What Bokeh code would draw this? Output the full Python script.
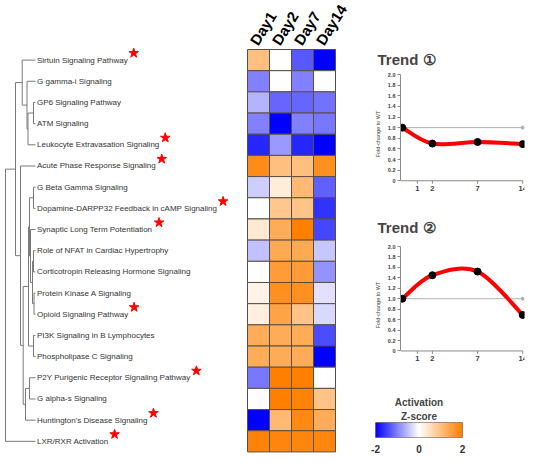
import numpy as np
from bokeh.plotting import figure
from bokeh.layouts import row, column
from bokeh.models import (Range1d, LinearColorMapper, FixedTicker, ColumnDataSource,
                          Title, PrintfTickFormatter)
from bokeh.transform import transform
from bokeh.core.properties import value
from bokeh.embed import file_html
from bokeh.resources import INLINE

# ---------------------------------------------------------------- data
pathways = [
    "Sirtuin Signaling Pathway",
    "G gamma-i Signaling",
    "GP6 Signaling Pathway",
    "ATM Signaling",
    "Leukocyte Extravasation Signaling",
    "Acute Phase Response Signaling",
    "G Beta Gamma Signaling",
    "Dopamine-DARPP32 Feedback in cAMP Signaling",
    "Synaptic Long Term Potentiation",
    "Role of NFAT in Cardiac Hypertrophy",
    "Corticotropin Releasing Hormone Signaling",
    "Protein Kinase A Signaling",
    "Opioid Signaling Pathway",
    "PI3K Signaling in B Lymphocytes",
    "Phospholipase C Signaling",
    "P2Y Purigenic Receptor Signaling Pathway",
    "G alpha-s Signaling",
    "Huntington's Disease Signaling",
    "LXR/RXR Activation",
]
starred = [True, False, False, False, True, True, False, True, True, False,
           False, False, True, False, False, True, False, True, True]

days = ["Day1", "Day2", "Day7", "Day14"]
z_day1 = [1.0, -1.0, -0.6, -1.0, -1.7, 1.8, -0.4, 0.0, 0.35, -0.5,
          0.0, 0.2, 0.25, 1.3, 1.3, -1.05, 0.0, -2.0, 1.95]
z_day2 = [0.0, 0.0, -1.2, -2.0, -0.8, 1.0, 0.3, 0.9, 1.3, 1.35,
          1.55, 1.75, 1.45, 1.3, 1.3, 2.0, 2.0, 1.1, 1.9]
z_day7 = [-1.3, -1.0, -1.2, -1.0, -1.7, 1.0, 1.1, 0.95, 2.0, 1.35,
          1.55, 1.75, 0.95, 1.3, 1.3, 2.0, 1.95, 1.85, 1.9]
z_day14 = [-2.0, 0.0, -1.1, -1.05, -2.0, 1.75, -1.25, -1.6, -1.45, -0.45,
           -0.85, -0.25, -0.3, -1.4, -2.0, 0.0, 0.95, 1.3, 1.9]

# hierarchical clustering of the pathways: (child_a, child_b, merge height)
# leaves are 0..18, merged clusters continue the numbering from 19
merges = [
    (2, 3, 2.0), (19, 4, 7.5), (1, 20, 8.5), (0, 21, 13.3),
    (6, 7, 2.0), (9, 10, 2.0), (11, 12, 1.5), (24, 25, 3.0), (8, 26, 5.0),
    (23, 27, 6.0), (13, 14, 2.0), (28, 29, 7.0), (15, 16, 6.0), (31, 17, 10.0),
    (30, 32, 12.3), (5, 33, 15.0), (22, 34, 20.0), (35, 18, 30.0),
]

trend_days = [0, 2, 7, 14]
trend1_fold = [1.0, 0.70, 0.73, 0.69]
trend2_fold = [1.0, 1.45, 1.52, 0.69]
trend_tick_days = [1, 2, 7, 14]
fold_ticks = [0, 0.2, 0.4, 0.6, 0.8, 1.0, 1.2, 1.4, 1.6, 1.8, 2.0]
wt_level = 1.0
zscore_ticks = [-2, 0, 2]

# ---------------------------------------------------------------- styling
FONT = "Liberation Sans"
W_LEFT, W_RIGHT, H = 360, 177, 463
ROW_PX, TOP_PX = 21.18, 49.0
LEAF_X = 35.0
LABEL_X = 36.5
HEAT_X0, CELL_W = 247.0, 22.0
LABEL_SIZE = 8.0

# horizontal slot of each day on the trend axes
DAY_POS = {0: 0, 1: 1, 2: 2, 7: 5, 14: 8}
FOLD_PX = 53.15          # pixels per fold-change unit on the trend panels
X_LO, X_HI = -0.12, 8.12
Y_LO, Y_HI = -0.24, 2.0


def ramp(c0, c1, n):
    c0, c1 = np.array(c0, float), np.array(c1, float)
    out = []
    for t in np.linspace(0, 1, n):
        r, g, b = (c0 + (c1 - c0) * t).round().astype(int)
        out.append("#%02x%02x%02x" % (r, g, b))
    return out


palette = ramp((0, 0, 255), (255, 255, 255), 128) + ramp((255, 255, 255), (255, 128, 0), 128)
mapper = LinearColorMapper(palette=palette, low=-2, high=2)

# Arial / Liberation Sans advance widths (1/1000 em), used to place the stars
_W = {191: "'", 222: "ijl", 278: " Ift/.,", 333: "r-()", 500: "cksvxyzJ",
      556: "abdeghnopquL0123456789", 611: "FTZ", 667: "ABEKPSVXY",
      722: "CDHNRUw", 778: "GOQ", 833: "mM", 944: "W"}
CHAR_W = {ch: w for w, chars in _W.items() for ch in chars}


def text_width(s, size):
    return sum(CHAR_W.get(ch, 556) for ch in s) * size / 1000.0


# ---------------------------------------------------------------- left panel
y_top = -0.5 - TOP_PX / ROW_PX
y_bot = -0.5 + (H - TOP_PX) / ROW_PX
p = figure(width=W_LEFT, height=H, x_range=Range1d(0, W_LEFT), y_range=Range1d(y_bot, y_top),
           x_axis_location=None, y_axis_location=None, min_border=0,
           output_backend="svg", toolbar_location=None)
p.grid.visible = False
p.outline_line_color = None

n = len(pathways)
rows = list(range(n))

# dendrogram
node_x = {i: LEAF_X for i in rows}
node_y = {i: float(i) for i in rows}
sx0, sy0, sx1, sy1 = [], [], [], []
for k, (a, b, h) in enumerate(merges):
    nid = n + k
    x = LEAF_X - h
    node_x[nid] = x
    node_y[nid] = (node_y[a] + node_y[b]) / 2.0
    sx0 += [x, x, x]
    sy0 += [node_y[a], node_y[a], node_y[b]]
    sx1 += [x, node_x[a], node_x[b]]
    sy1 += [node_y[b], node_y[a], node_y[b]]
p.segment(x0=sx0, y0=sy0, x1=sx1, y1=sy1, line_color="#7a7a7a", line_width=1)

# pathway labels
p.text(x=[LABEL_X] * n, y=rows, text=pathways, text_font=value(FONT),
       text_font_size=f"{LABEL_SIZE}px", text_baseline="middle", text_align="left",
       text_color="#333333")

# stars for highlighted pathways
star_x = [LABEL_X + text_width(s, LABEL_SIZE) + 6 for s, f in zip(pathways, starred) if f]
star_y = [r - 0.33 for r, f in zip(rows, starred) if f]
p.scatter(x=star_x, y=star_y, marker="star", size=10, fill_color="#ff0000",
          line_color="#ff0000")

# heatmap
cols = [z_day1, z_day2, z_day7, z_day14]
hx, hy, hz = [], [], []
for j, col in enumerate(cols):
    for i, zv in enumerate(col):
        hx.append(HEAT_X0 + (j + 0.5) * CELL_W)
        hy.append(i)
        hz.append(zv)
src = ColumnDataSource(dict(x=hx, y=hy, z=hz))
p.rect(x="x", y="y", width=CELL_W, height=1, source=src,
       fill_color=transform("z", mapper), line_color="#5a4e44", line_width=1)

# column headers
p.text(x=[HEAT_X0 + (j + 0.5) * CELL_W - 5 for j in range(len(days))],
       y=[-0.5 - 6 / ROW_PX] * len(days), text=days, angle=np.deg2rad(58),
       text_font=value(FONT), text_font_size="15px", text_font_style="bold",
       text_align="left", text_baseline="alphabetic", text_color="#000000")


# ---------------------------------------------------------------- trend panels
def smooth_segments(xs, ys):
    """Catmull-Rom curve through the points, as cubic bezier pieces."""
    px = [xs[0]] + list(xs) + [xs[-1]]
    py = [ys[0]] + list(ys) + [ys[-1]]
    seg = dict(x0=[], y0=[], x1=[], y1=[], cx0=[], cy0=[], cx1=[], cy1=[])
    for i in range(1, len(px) - 2):
        seg["x0"].append(px[i]); seg["y0"].append(py[i])
        seg["x1"].append(px[i + 1]); seg["y1"].append(py[i + 1])
        seg["cx0"].append(px[i] + (px[i + 1] - px[i - 1]) / 6)
        seg["cy0"].append(py[i] + (py[i + 1] - py[i - 1]) / 6)
        seg["cx1"].append(px[i + 1] - (px[i + 2] - px[i]) / 6)
        seg["cy1"].append(py[i + 1] - (py[i + 2] - py[i]) / 6)
    return seg


AXIS_GREY = "#8a8a8a"


def trend_panel(title, fold, height, border_top, title_gap):
    frame_h = (Y_HI - Y_LO) * FOLD_PX
    t = figure(width=W_RIGHT, height=height, title=title,
               x_range=Range1d(X_LO, X_HI), y_range=Range1d(Y_LO, Y_HI),
               x_axis_location=None,
               min_border_left=40, min_border_right=13,
               min_border_top=border_top,
               min_border_bottom=int(round(height - border_top - frame_h)),
               output_backend="svg", toolbar_location=None)
    t.grid.visible = False
    t.outline_line_color = None
    t.title.text_font = FONT
    t.title.text_font_size = "15px"
    t.title.text_font_style = "bold"
    t.title.align = "left"
    t.title.offset = -23
    t.title.standoff = title_gap

    # day axis: baseline, ticks and day labels
    tick_x = [DAY_POS[d] for d in trend_tick_days]
    tick_len = 3.0 / FOLD_PX
    t.segment(x0=[X_LO], y0=[0], x1=[DAY_POS[trend_days[-1]]], y1=[0],
              line_color=AXIS_GREY, line_width=1)
    t.segment(x0=tick_x, y0=[0] * len(tick_x), x1=tick_x, y1=[-tick_len] * len(tick_x),
              line_color=AXIS_GREY, line_width=1)
    t.text(x=tick_x, y=[-8.0 / FOLD_PX] * len(tick_x), text=[str(d) for d in trend_tick_days],
           text_font=value(FONT), text_font_size="7.5px", text_font_style="bold",
           text_color="#3a3a3a", text_align="center", text_baseline="middle")

    xs = [DAY_POS[d] for d in trend_days]
    first, last = DAY_POS[trend_days[0]], DAY_POS[trend_days[-1]]
    t.line(x=[first, last], y=[wt_level, wt_level], line_color="#b0b0b0", line_width=1)
    t.scatter(x=[last], y=[wt_level], size=3, color="#b0b0b0")

    seg = smooth_segments(xs, fold)
    t.bezier(source=ColumnDataSource(seg), x0="x0", y0="y0", x1="x1", y1="y1",
             cx0="cx0", cy0="cy0", cx1="cx1", cy1="cy1",
             line_color="#ff0000", line_width=4, line_cap="round")
    t.scatter(x=xs, y=fold, size=7, color="#000000")

    ax = t.yaxis
    ax.bounds = (fold_ticks[0], fold_ticks[-1])
    ax.axis_line_color = AXIS_GREY
    ax.major_tick_line_color = AXIS_GREY
    ax.major_tick_out = 3
    ax.major_tick_in = 0
    ax.minor_tick_line_color = None
    ax.ticker = FixedTicker(ticks=fold_ticks)
    ax.formatter = PrintfTickFormatter(format="%.1f")
    ax.major_label_overrides = {0: "0"}
    ax.major_label_text_font = FONT
    ax.major_label_text_font_size = "5.5px"
    ax.major_label_text_font_style = "bold"
    ax.major_label_text_color = "#3a3a3a"
    ax.major_label_standoff = 2
    ax.axis_label = "Fold-change to WT"
    ax.axis_label_text_font = FONT
    ax.axis_label_text_font_size = "5.5px"
    ax.axis_label_text_font_style = "normal"
    ax.axis_label_text_color = "#444444"
    ax.axis_label_standoff = 4
    return t


t1 = trend_panel("Trend \u2460", trend1_fold, 205, 74, 14)
t2 = trend_panel("Trend \u2461", trend2_fold, 175, 39, 22)

# ---------------------------------------------------------------- colour key
c = figure(width=W_RIGHT, height=H - 205 - 175, title="Activation",
           x_range=Range1d(-2, 2), y_range=Range1d(0, 1),
           min_border_left=15, min_border_right=75, min_border_top=42, min_border_bottom=26,
           y_axis_location=None, output_backend="svg", toolbar_location=None)
c.grid.visible = False
c.outline_line_color = "#8a7f78"
c.image(image=[np.linspace(-2, 2, 256)[None, :]], x=-2, y=0, dw=4, dh=1, color_mapper=mapper)
c.xaxis.ticker = FixedTicker(ticks=zscore_ticks)
c.xaxis.major_label_overrides = {v: str(v) for v in zscore_ticks}
c.xaxis.axis_line_color = None
c.xaxis.major_tick_line_color = None
c.xaxis.minor_tick_line_color = None
c.xaxis.major_label_text_font = FONT
c.xaxis.major_label_text_font_size = "10px"
c.xaxis.major_label_text_font_style = "bold"
c.xaxis.major_label_text_color = "#333333"
c.xaxis.major_label_standoff = 1
c.title.align = "center"
c.title.text_font = FONT
c.title.text_font_size = "10px"
c.title.text_font_style = "bold"
c.title.standoff = 0
c.add_layout(Title(text="Z-score", align="center", text_font=FONT,
                   text_font_size="10px", text_font_style="bold", standoff=2), "above")

layout = row(p, column(t1, t2, row(c)))
open("out.html", "w").write(file_html(layout, INLINE))
